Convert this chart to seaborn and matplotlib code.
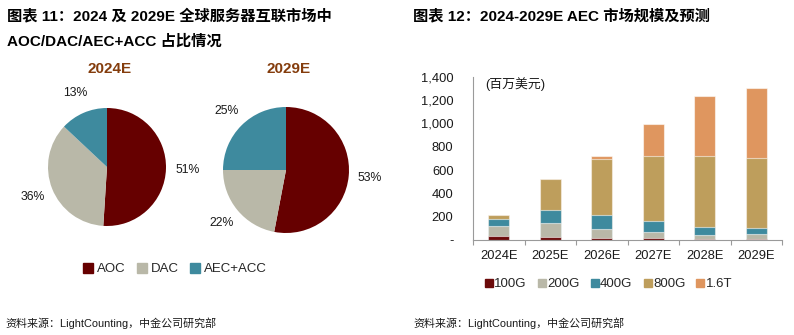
import numpy as np
import pandas as pd
import seaborn as sns
import matplotlib
matplotlib.use("Agg")
import matplotlib.pyplot as plt
from matplotlib.lines import Line2D

# ---------------- data ----------------
pie_labels = ["AOC", "DAC", "AEC+ACC"]
pie_2024 = [51, 36, 13]
pie_2029 = [53, 22, 25]
pie_titles = ["2024E", "2029E"]

years = ["2024E", "2025E", "2026E", "2027E", "2028E", "2029E"]
speeds = ["100G", "200G", "400G", "800G", "1.6T"]
v100 = [37, 26, 17, 14, 9, 6]
v200 = [86, 120, 80, 55, 34, 45]
v400 = [54, 111, 120, 94, 71, 49]
v800 = [40, 266, 474, 560, 609, 606]
v16t = [0, 0, 32, 268, 508, 600]
yticks = [0, 200, 400, 600, 800, 1000, 1200, 1400]
ytick_labels = ["-", "200", "400", "600", "800", "1,000", "1,200", "1,400"]

pie_colors = ["#660000", "#B9B8A8", "#3E8A9E"]
bar_colors = ["#6B0A0A", "#B9B8A8", "#3E8A9E", "#BE9E5C", "#DF965F"]

# ---------------- style ----------------
sns.set_theme(style="white")
plt.rcParams["font.family"] = ["Liberation Sans", "Noto Sans CJK SC"]
plt.rcParams["axes.unicode_minus"] = False

W, H = 794, 335
fig = plt.figure(figsize=(W / 100, H / 100), dpi=100)

def fx(px):
    return px / W

def fy(py):
    return 1 - py / H

# ---------------- titles ----------------
fig.text(fx(7), fy(16), "图表 11：2024 及 2029E 全球服务器互联市场中", fontsize=11,
         fontweight="bold", va="center", ha="left", color="black")
fig.text(fx(7), fy(41), "AOC/DAC/AEC+ACC 占比情况", fontsize=11,
         fontweight="bold", va="center", ha="left", color="black")
fig.text(fx(413), fy(16), "图表 12：2024-2029E AEC 市场规模及预测", fontsize=11,
         fontweight="bold", va="center", ha="left", color="black")

fig.text(fx(5), fy(323), "资料来源：LightCounting，中金公司研究部", fontsize=7.9,
         va="center", ha="left", color="#1a1a1a")
fig.text(fx(413), fy(323), "资料来源：LightCounting，中金公司研究部", fontsize=7.9,
         va="center", ha="left", color="#1a1a1a")

# ---------------- pies ----------------
pie_specs = [(107, 167, 59, pie_2024, 1.36), (286, 170, 63, pie_2029, 1.33)]
for (cx, cy, r, vals, pd_), title in zip(pie_specs, pie_titles):
    ax = fig.add_axes([fx(cx - r), fy(cy + r), (2 * r) / W, (2 * r) / H])
    ax.pie(vals, colors=pie_colors, startangle=90, counterclock=False,
           autopct=lambda p: f"{p:.0f}%", pctdistance=pd_,
           wedgeprops=dict(linewidth=0),
           textprops=dict(fontsize=8.8, color="#1a1a1a"))
    ax.set_xlim(-1, 1)
    ax.set_ylim(-1, 1)
    ax.set_aspect("equal")
    ax.axis("off")
    fig.text(fx(cx + 3), fy(69), title, fontsize=11, fontweight="bold",
             color="#843C0C", ha="center", va="center")

pie_handles = [Line2D([0], [0], marker="s", linestyle="none", markersize=7,
                      markerfacecolor=c, markeredgecolor=c) for c in pie_colors]
fig.legend(pie_handles, pie_labels, loc="center", bbox_to_anchor=(fx(175), fy(269)),
           ncol=3, frameon=False, fontsize=9.5, handlelength=0.7,
           handletextpad=0.3, columnspacing=0.9)

# ---------------- stacked bars ----------------
ax = fig.add_axes([fx(473), fy(240), fx(782) - fx(473), fy(76.7) - fy(240)])
layers = [v100, v200, v400, v800, v16t]
cum = np.cumsum(np.array(layers), axis=0)
df = pd.DataFrame({"year": years})
for i in range(len(layers) - 1, -1, -1):
    df["val"] = cum[i]
    sns.barplot(data=df, x="year", y="val", color=bar_colors[i], width=0.4,
                saturation=1, edgecolor=(1, 1, 1, 0.55), linewidth=0.8, ax=ax)

ax.set_xlabel("")
ax.set_ylabel("")
ax.set_xlim(-0.5, len(years) - 0.5)
ax.set_ylim(0, 1400)
ax.set_yticks(yticks)
ax.set_yticklabels(ytick_labels)
ax.tick_params(axis="y", length=0, pad=14, labelsize=9.3, colors="#1a1a1a")
ax.tick_params(axis="x", which="major", length=0, pad=7, labelsize=9.3, colors="#1a1a1a")
ax.set_xticks(np.arange(-0.5, len(years), 1.0), minor=True)
ax.tick_params(axis="x", which="minor", length=3.5, width=0.8, color="#9a9a9a",
               direction="out", bottom=True)
for s in ["top", "right"]:
    ax.spines[s].set_visible(False)
for s in ["left", "bottom"]:
    ax.spines[s].set_color("#9a9a9a")
    ax.spines[s].set_linewidth(0.8)
ax.grid(False)
ax.text(0.04, 0.955, "(百万美元)", transform=ax.transAxes, fontsize=9.3,
        ha="left", va="center", color="#1a1a1a")

bar_handles = [Line2D([0], [0], marker="s", linestyle="none", markersize=5.5,
                      markerfacecolor=c, markeredgecolor=c) for c in bar_colors]
fig.legend(bar_handles, speeds, loc="center", bbox_to_anchor=(fx(609), fy(284)),
           ncol=5, frameon=False, fontsize=9.5, handlelength=0.5,
           handletextpad=0.15, columnspacing=0.9)

fig.savefig("out.png", dpi=100)
